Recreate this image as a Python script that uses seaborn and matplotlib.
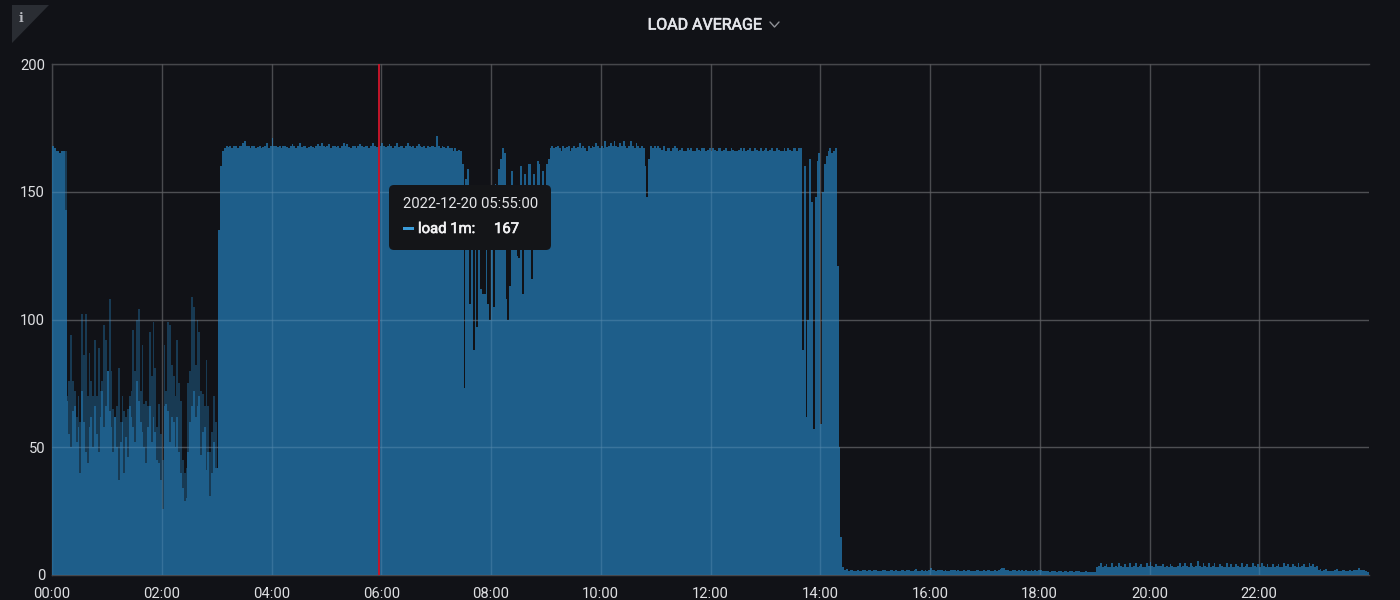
import numpy as np
import seaborn as sns
import matplotlib
matplotlib.use('Agg')
import matplotlib.pyplot as plt
import matplotlib.patheffects as pe
from matplotlib.lines import Line2D
from matplotlib.patches import FancyBboxPatch, Polygon, Rectangle
from matplotlib.transforms import IdentityTransform

# load 1m, one value per 2 minutes, one list per hour
h00 = [168, 167, 166, 166, 165, 166, 166, 143, 68, 55, 50, 64, 66, 52, 58, 40, 72, 60, 48, 44, 58, 62, 50, 66, 55, 48, 62, 72, 58, 66]
h01 = [80, 64, 58, 48, 62, 50, 37, 52, 60, 40, 54, 46, 66, 62, 58, 52, 76, 68, 60, 56, 50, 44, 58, 66, 52, 62, 56, 45, 44, 37]
h02 = [26, 66, 67, 64, 52, 62, 60, 50, 62, 48, 40, 34, 29, 30, 48, 60, 66, 72, 62, 66, 70, 47, 56, 58, 41, 48, 31, 40, 52, 42]
h03 = [42, 135, 160, 166, 167, 168, 167.5, 168, 167, 168, 168, 167, 168, 168, 169, 170, 168, 168, 167, 168, 168, 167, 167.5, 168, 167, 167.5, 168, 169, 167, 168]
h04 = [171, 168, 168, 167.5, 168, 167, 168, 168, 167.5, 167, 168, 168.5, 168, 167, 168, 169, 167.5, 168, 168, 167, 167.5, 168, 167.5, 167, 168, 168.5, 168, 169, 168, 167.5]
h05 = [168, 168.5, 167, 168, 168, 167.5, 168, 167, 168, 169, 168, 168.5, 167.5, 167, 168, 168, 167, 168, 168.5, 168, 167.5, 168, 168, 167, 168, 169, 168, 167.5, 168, 168]
h06 = [169, 168, 167.5, 168, 168.5, 168, 167, 168, 169, 167.5, 168, 168, 167, 168, 169, 168, 167.5, 168, 167, 168, 168.5, 168, 167.5, 168, 167, 168, 167.5, 168, 168, 167.5]
h07 = [172, 168, 167, 168, 167.5, 167, 168, 167, 167, 166, 167, 166, 166.5, 166, 161, 73, 155, 159, 106, 150, 88, 145, 97, 150, 112, 110, 110, 150, 106, 100]
h08 = [148, 105, 153, 148, 159, 163, 167, 165, 108, 100, 113, 158, 150, 150, 125, 124, 160, 110, 157, 150, 161, 161, 116, 157, 150, 162, 161, 150, 158, 150]
h09 = [161, 163, 167, 168, 167, 167.5, 168, 167, 166, 168, 167, 167.5, 168, 166, 167, 168, 167, 167.5, 169, 167, 168, 167, 166, 168, 167, 168, 167.5, 169, 168, 167]
h10 = [168, 167, 170, 167.5, 168, 169, 168, 170, 168, 167.5, 169, 168, 170, 168, 167, 168, 170, 168, 167, 169, 168, 167, 168, 167, 160, 148, 163, 168, 167, 168]
h11 = [167, 168, 167, 166.5, 168, 166, 167, 167, 166, 167, 168, 167, 166, 166.5, 167, 166, 166, 167, 166.5, 167, 166, 166, 167, 166.5, 166, 167, 167, 166, 166.5, 167]
h12 = [166, 167, 166.5, 166, 167, 167, 166, 166.5, 167, 166, 166, 167, 166.5, 166, 166, 166.5, 167, 166, 167, 166, 166.5, 167, 166, 166, 167, 166.5, 166, 167, 166, 166.5]
h13 = [167, 166, 166.5, 167, 166, 166, 167, 166.5, 166, 166, 167, 166, 167, 166.5, 166, 167, 167, 166, 167, 167, 88, 160, 62, 100, 163, 146, 57, 148, 162, 165]
h14 = [59, 150, 161, 164, 166, 167, 165, 166, 167, 121, 50, 15, 3, 2, 2.2, 1.6, 2, 1.8, 1.5, 1.7, 2, 1.5, 1.6, 1.9, 2, 1.6, 1.8, 2, 1.5, 1.8]
h15 = [1.9, 1.5, 1.7, 1.6, 2, 1.8, 1.5, 1.7, 2, 1.8, 1.5, 1.9, 1.6, 1.5, 1.8, 2, 1.6, 1.8, 2.1, 1.7, 1.5, 1.8, 2.2, 1.6, 1.7, 1.9, 1.5, 1.8, 1.6, 1.9]
h16 = [2.6, 2, 1.9, 1.5, 1.8, 2, 1.9, 1.6, 1.8, 1.7, 1.5, 1.8, 2, 1.9, 1.6, 1.8, 1.5, 1.7, 1.9, 1.6, 1.8, 2, 1.5, 1.7, 1.6, 1.9, 2, 1.6, 1.7, 1.9]
h17 = [1.5, 1.8, 2, 1.6, 1.7, 1.9, 1.5, 2, 2.3, 2.8, 2.6, 2, 1.8, 1.5, 1.7, 1.9, 1.8, 1.5, 1.9, 1.7, 2, 1.5, 1.8, 1.7, 1.4, 1.8, 1.7, 2, 1.4, 1.8]
h18 = [2, 1.7, 1.4, 1.6, 1.4, 1.3, 1.6, 1.4, 1.5, 1.3, 1.4, 1.7, 1.3, 1.4, 1.6, 1.3, 1.5, 1.4, 1.3, 1.6, 1.4, 1.5, 1.3, 1.2, 1.3, 1.5, 1.3, 1.2, 1.3, 1.2]
h19 = [1.3, 3.2, 3.4, 4.6, 3.3, 3.4, 4.5, 3.2, 3.3, 4.6, 3.2, 3.4, 3.3, 4.7, 3.4, 3.2, 4.5, 3.3, 3.2, 4.6, 3.3, 3.4, 4.6, 3.2, 3.4, 4.5, 3.3, 3.2, 4.6, 3.4]
h20 = [5, 3.6, 3.3, 4.4, 3.4, 3.5, 3.6, 4.4, 3.3, 3.4, 3.2, 4.5, 3.4, 3, 3, 3.6, 4.6, 3.3, 3.5, 4.6, 3.4, 3.3, 4.7, 3.6, 3.3, 3.6, 5.6, 3.7, 3.3, 4.7]
h21 = [3.4, 3.2, 4.6, 3.3, 3.4, 4.7, 3.3, 3.2, 4.5, 3.4, 3.3, 3.2, 4.6, 3.3, 4.4, 3.2, 3.3, 4.5, 3.4, 3.2, 4.6, 3.3, 3.4, 4.4, 3.2, 3.3, 4.6, 3.4, 3.2, 4.5]
h22 = [3.3, 4.7, 3.4, 3.3, 4.5, 3.3, 3.2, 4.4, 3.3, 3.4, 4.5, 3.2, 3.3, 4.6, 3.4, 4.5, 3.3, 3.2, 4.4, 3.4, 3.2, 4.6, 3.3, 3.4, 4.5, 3.2, 3.3, 4.6, 3.4, 4.4]
h23 = [3.2, 3.4, 2, 2.2, 1.6, 1.8, 2.3, 1.5, 1.7, 1.4, 1.5, 1.9, 2.4, 1.5, 1.7, 1.8, 2, 1.5, 1.7, 1.9, 1.5, 1.8, 2, 1.9, 2.6, 2.1, 1.8, 1.9, 1.7, 1.2]

# short spikes above the solid part during the first three hours
peak00 = [168, 167, 166, 166, 165, 166, 166, 166, 70, 76, 94, 76, 72, 62, 70, 60, 102, 86, 102, 70, 87, 76, 70, 92, 70, 89, 72, 76, 98, 92]
peak01 = [80, 108, 80, 65, 62, 66, 81, 60, 70, 64, 62, 65, 70, 72, 96, 80, 100, 104, 72, 90, 67, 68, 66, 95, 78, 99, 81, 58, 67, 55]
peak02 = [45, 90, 72, 99, 98, 82, 78, 70, 92, 75, 68, 45, 40, 42, 75, 80, 109, 105, 82, 100, 95, 72, 71, 66, 84, 66, 48, 56, 70, 60]

series_name = 'load 1m'
tooltip_time = '2022-12-20 05:55:00'
tooltip_value = '167'
cursor_minute = 357.5
panel_title = 'LOAD AVERAGE'
y_ticks = [0, 50, 100, 150, 200]
x_ticks = list(range(0, 1440, 120))
x_labels = ['00:00', '02:00', '04:00', '06:00', '08:00', '10:00', '12:00', '14:00', '16:00', '18:00', '20:00', '22:00']

load = np.array(h00 + h01 + h02 + h03 + h04 + h05 + h06 + h07 + h08 + h09 + h10 + h11
                + h12 + h13 + h14 + h15 + h16 + h17 + h18 + h19 + h20 + h21 + h22 + h23)
peak = np.array(peak00 + peak01 + peak02)
minutes = np.arange(len(load)) * 2 + 1
n_peak = len(peak)

bg = '#111217'
text_col = '#dfe0e3'
grid_col = '#3d3e42'
bar_col = '#2272a8'

sns.set_theme(style='dark', rc={'axes.facecolor': bg, 'figure.facecolor': bg})
plt.rcParams['font.family'] = ['Roboto', 'DejaVu Sans']

W, H = 1400, 600
fig = plt.figure(figsize=(14, 6), dpi=100)
ax = fig.add_axes([52 / W, 1 - 575 / H, 1317 / W, 511 / H])

# first three hours: spikes behind, solid part thinner so the blend equals the rest
sns.histplot(x=minutes[:n_peak], weights=peak, bins=n_peak, binrange=(0, 2 * n_peak), element='bars',
             color=bar_col, alpha=0.42, linewidth=0, ax=ax, zorder=2)
sns.histplot(x=minutes[:n_peak], weights=load[:n_peak], bins=n_peak, binrange=(0, 2 * n_peak), element='bars',
             color=bar_col, alpha=0.655, linewidth=0, ax=ax, zorder=3)
n_rest = len(load) - n_peak
sns.histplot(x=minutes[n_peak:], weights=load[n_peak:], bins=n_rest, binrange=(2 * n_peak, 2 * len(load)), element='bars',
             color=bar_col, alpha=0.8, linewidth=0, ax=ax, zorder=3)

ax.set_xlim(0, 1440)
ax.set_ylim(0, 200)
ax.set_xticks(x_ticks)
ax.set_xticklabels(x_labels)
ax.set_yticks(y_ticks)
ax.set_xlabel('')
ax.set_ylabel('')
ax.grid(True, color=grid_col, linewidth=1, zorder=0)
ax.set_axisbelow(True)
ax.tick_params(axis='both', length=0, colors=text_col, labelsize=10.6)
ax.tick_params(axis='x', pad=9)
ax.tick_params(axis='y', pad=5)
for s in ax.spines.values():
    s.set_visible(False)
for s in ['left', 'top', 'bottom']:
    ax.spines[s].set_visible(True)
    ax.spines[s].set_color('#46474b')
    ax.spines[s].set_linewidth(1)
    ax.spines[s].set_zorder(1)

# faint grid over the bars, it shows through them in the original
for v in y_ticks[1:-1]:
    ax.axhline(v, color='white', alpha=0.09, linewidth=1, zorder=4)
for v in x_ticks[1:]:
    ax.axvline(v, color='white', alpha=0.07, linewidth=1, zorder=4)

# hover line
ax.axvline(cursor_minute, color='#c4162a', linewidth=1.4, zorder=5)


def px(x, y):
    return x, H - y


def ftext(x, y, s, heavy=False, **kw):
    t = fig.text(x / W, 1 - y / H, s, va='center', **kw)
    if heavy:
        t.set_path_effects([pe.withStroke(linewidth=0.45, foreground=kw['color'])])
    return t


# info corner
corner = Polygon([px(12, 5), px(49, 5), px(12, 43)], closed=True, facecolor='#2a2d33',
                 edgecolor='none', transform=IdentityTransform(), zorder=4)
fig.add_artist(corner)
ftext(21, 19, 'i', color='#b8bac0', fontsize=9, fontweight='bold', family='DejaVu Serif', ha='center', zorder=5)

# title
ftext(705, 25, panel_title, heavy=True, color='#e4e5ea', fontsize=11.5, ha='center')
fig.add_artist(Line2D([px(770, 22)[0], px(774.5, 27)[0], px(779, 22)[0]],
                      [px(770, 22)[1], px(774.5, 27)[1], px(779, 22)[1]],
                      color='#8e9096', linewidth=1, transform=IdentityTransform(), zorder=4))

# tooltip
box = FancyBboxPatch(px(393, 246), 154, 57, boxstyle='round,pad=4,rounding_size=5',
                     facecolor='#141518', edgecolor='none', transform=IdentityTransform(), zorder=6)
fig.add_artist(box)
ftext(403, 204, tooltip_time, color='#e4e5e8', fontsize=10.7, ha='left', zorder=7)
swatch = Rectangle(px(403, 229.5), 11, 3, facecolor='#3a9bd8', edgecolor='none',
                   transform=IdentityTransform(), zorder=7)
fig.add_artist(swatch)
ftext(418, 229, series_name + ':', heavy=True, color='#f2f2f4', fontsize=10.7, ha='left', zorder=7)
ftext(494, 229, tooltip_value, heavy=True, color='#f2f2f4', fontsize=10.7, ha='left', zorder=7)

fig.savefig('out.png', dpi=100, facecolor=bg)
